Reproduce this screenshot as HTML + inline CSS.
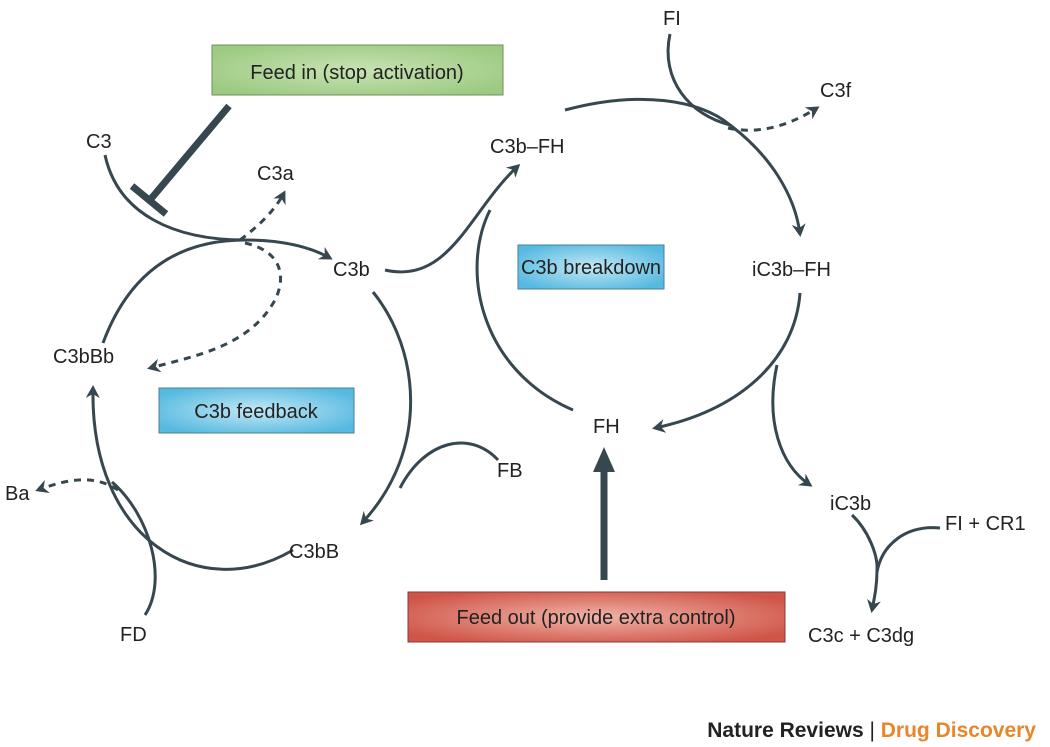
<!DOCTYPE html>
<html><head><meta charset="utf-8"><style>
html,body{margin:0;padding:0;background:#fff;}
svg{display:block;}
text{font-family:"Liberation Sans",sans-serif;fill:#222;font-size:20px;}
</style></head><body>
<svg width="1050" height="747" viewBox="0 0 1050 747" xmlns="http://www.w3.org/2000/svg">
<defs>
<marker id="a" markerWidth="16" markerHeight="14" refX="10" refY="7" orient="auto" markerUnits="userSpaceOnUse"><path d="M0,0 L13,7 L0,14 L4,7 Z" fill="#37474f"/></marker>
<radialGradient id="bl" cx="50%" cy="50%" r="60%"><stop offset="0" stop-color="#c4e8f5"/><stop offset="1" stop-color="#55b9e0"/></radialGradient>
<radialGradient id="gr" cx="50%" cy="50%" r="60%"><stop offset="0" stop-color="#c8e3b4"/><stop offset="1" stop-color="#9dca82"/></radialGradient>
<radialGradient id="rd" cx="50%" cy="50%" r="60%"><stop offset="0" stop-color="#f1b3a8"/><stop offset="1" stop-color="#cf5548"/></radialGradient>
</defs>
<g fill="none" stroke="#37474f" stroke-width="3">
<rect x="212" y="45" width="291" height="50" fill="url(#gr)" stroke="#6f8f5f" stroke-width="1"/>
<rect x="159" y="388" width="195" height="45" fill="url(#bl)" stroke="#4a7f99" stroke-width="1"/>
<rect x="518" y="245" width="146" height="44" fill="url(#bl)" stroke="#4a7f99" stroke-width="1"/>
<rect x="408" y="592" width="377" height="50" fill="url(#rd)" stroke="#8a3a33" stroke-width="1"/>
<path d="M229,106 L150,200" stroke-width="7"/>
<path d="M132,186 L166,214" stroke-width="7"/>
<path d="M105,155 C118,215 175,240 245,240 C285,240 312,248 330,258" marker-end="url(#a)"/>
<path d="M103,343 C130,270 180,240 245,240"/>
<path d="M373,292 C420,350 430,450 362,523" marker-end="url(#a)"/>
<path d="M293,550 C200,605 90,540 93,388" marker-end="url(#a)"/>
<path d="M498,460 C470,430 425,440 400,488"/>
<path d="M145,615 C168,580 150,515 112,482"/>
<g stroke-dasharray="7,6">
<path d="M240,240 C260,225 275,210 284,193" marker-end="url(#a)"/>
<path d="M245,243 C285,252 285,280 275,300 C250,345 200,355 150,368" marker-end="url(#a)"/>
<path d="M118,490 C95,475 70,478 38,490" marker-end="url(#a)"/>
<path d="M728,128 C760,135 790,125 817,108" marker-end="url(#a)"/>
</g>
<path d="M385,270 C450,285 470,210 518,166" marker-end="url(#a)"/>
<path d="M565,110 C640,90 700,100 730,125 C770,155 795,195 800,234" marker-end="url(#a)"/>
<path d="M573,410 C480,370 460,270 490,210"/>
<path d="M800,293 C795,360 740,410 655,428" marker-end="url(#a)"/>
<path d="M670,34 C660,80 690,115 730,125"/>
<path d="M777,365 C765,420 780,465 810,485" marker-end="url(#a)"/>
<path d="M852,515 C868,530 878,555 877,570 C877,585 875,595 872,610" marker-end="url(#a)"/>
<path d="M940,528 C905,525 882,545 877,572"/>
</g>
<path d="M604,580 L604,470" stroke="#37474f" stroke-width="7"/>
<path d="M593,472 L604,447 L615,472 Z" fill="#37474f"/>
<text x="357" y="79" text-anchor="middle">Feed in (stop activation)</text>
<text x="256" y="418" text-anchor="middle">C3b feedback</text>
<text x="591" y="274" text-anchor="middle">C3b breakdown</text>
<text x="596" y="624" text-anchor="middle">Feed out (provide extra control)</text>
<text x="86" y="148">C3</text>
<text x="257" y="180">C3a</text>
<text x="333" y="276">C3b</text>
<text x="53" y="363">C3bBb</text>
<text x="289" y="558">C3bB</text>
<text x="5" y="500">Ba</text>
<text x="120" y="641">FD</text>
<text x="497" y="477">FB</text>
<text x="490" y="153">C3b–FH</text>
<text x="663" y="25">FI</text>
<text x="820" y="97">C3f</text>
<text x="752" y="276">iC3b–FH</text>
<text x="593" y="433">FH</text>
<text x="830" y="510">iC3b</text>
<text x="945" y="530">FI + CR1</text>
<text x="808" y="642">C3c + C3dg</text>
<text x="1036" y="737" text-anchor="end" style="font-weight:bold;font-size:21px"><tspan fill="#222">Nature Reviews</tspan><tspan fill="#222" font-weight="normal"> | </tspan><tspan fill="#e8862a">Drug Discovery</tspan></text>
</svg>
</body></html>
